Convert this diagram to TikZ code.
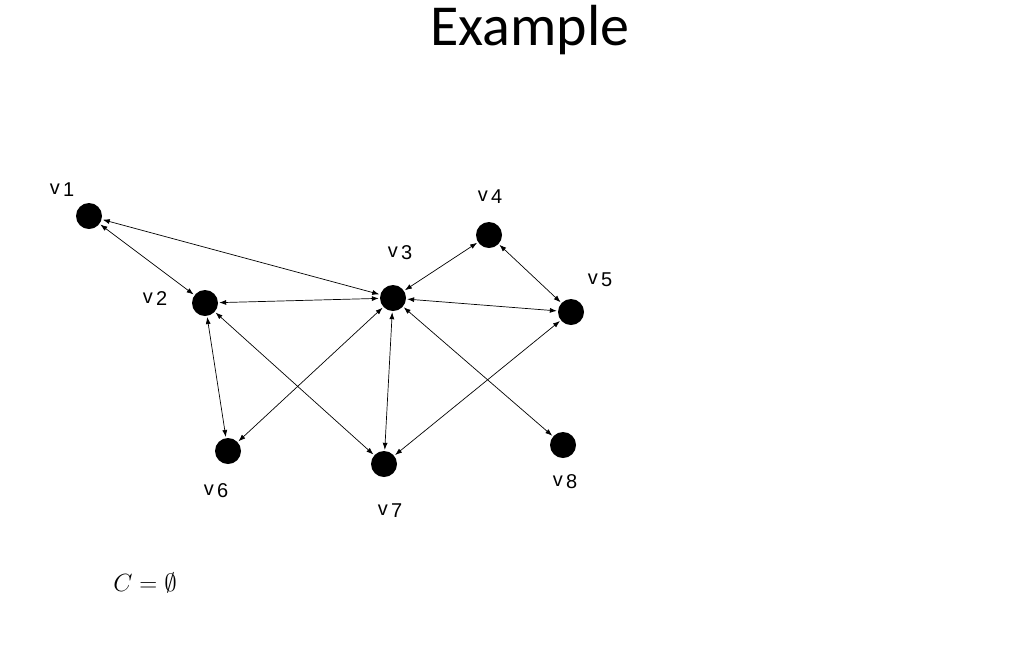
\documentclass[tikz,border=0pt]{standalone}
\usepackage{fontspec}
\setmainfont{Liberation Sans}
\newfontfamily\titlefont{Carlito}
\usetikzlibrary{arrows.meta}
\begin{document}
\begin{tikzpicture}[x=1pt,y=-1pt,
  v/.style={circle,fill=black,minimum size=26pt,inner sep=0pt},
  lab/.style={font=\fontsize{20}{22}\selectfont,inner sep=0pt},
  e/.style={{Latex[length=7pt,width=5pt]}-{Latex[length=7pt,width=5pt]},line width=0.7pt,shorten <=1pt,shorten >=1pt}]
\useasboundingbox (0,0) rectangle (1024,657);
\node[font=\titlefont\fontsize{58}{60}\selectfont] (t) at (530,30) {Example};
\node (v1) [v] at (89,216) {};
\node (v2) [v] at (205,303) {};
\node (v3) [v] at (393,298) {};
\node (v4) [v] at (489,235) {};
\node (v5) [v] at (571,312) {};
\node (v6) [v] at (228,451) {};
\node (v7) [v] at (384,464) {};
\node (v8) [v] at (563,445) {};
\node[lab] (l1) at (62,190) {\raisebox{2pt}{v}\,1};
\node[lab] (l2) at (155,299) {\raisebox{2pt}{v}\,2};
\node[lab] (l3) at (400,253) {\raisebox{2pt}{v}\,3};
\node[lab] (l4) at (490,197) {\raisebox{2pt}{v}\,4};
\node[lab] (l5) at (600,280) {\raisebox{2pt}{v}\,5};
\node[lab] (l6) at (216,491) {\raisebox{2pt}{v}\,6};
\node[lab] (l7) at (390,511) {\raisebox{2pt}{v}\,7};
\node[lab] (l8) at (565,482) {\raisebox{2pt}{v}\,8};
\node[font=\fontsize{28}{30}\selectfont] (c) at (145,583) {$C=\emptyset$};
\draw[e] (v1) -- (v2);
\draw[e] (v1) -- (v3);
\draw[e] (v2) -- (v3);
\draw[e] (v3) -- (v4);
\draw[e] (v4) -- (v5);
\draw[e] (v3) -- (v5);
\draw[e] (v2) -- (v6);
\draw[e] (v3) -- (v6);
\draw[e] (v2) -- (v7);
\draw[e] (v3) -- (v7);
\draw[e] (v5) -- (v7);
\draw[e] (v3) -- (v8);
\end{tikzpicture}
\end{document}
